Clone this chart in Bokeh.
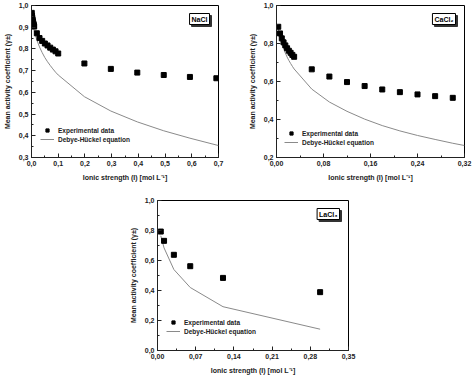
from bokeh.plotting import figure
from bokeh.layouts import row, column
from bokeh.models import (FixedTicker, CustomJSTickFormatter, Label, Legend,
                          LegendItem, Spacer)
from bokeh.embed import file_html
from bokeh.resources import INLINE

# ---------------- data ----------------
nacl_I = [0.001, 0.002, 0.003, 0.004, 0.005, 0.006, 0.007, 0.008, 0.009, 0.010,
          0.02, 0.03, 0.04, 0.05, 0.06, 0.07, 0.08, 0.09, 0.10,
          0.198, 0.297, 0.396, 0.495, 0.593, 0.692]
nacl_exp = [0.966, 0.953, 0.943, 0.935, 0.928, 0.922, 0.917, 0.912, 0.907, 0.903,
            0.872, 0.850, 0.837, 0.825, 0.816, 0.806, 0.797, 0.789, 0.779,
            0.733, 0.708, 0.691, 0.680, 0.671, 0.665]
nacl_dh_I = [0.001, 0.002, 0.003, 0.004, 0.005, 0.006, 0.007, 0.008, 0.009, 0.010,
             0.02, 0.03, 0.04, 0.05, 0.06, 0.07, 0.08, 0.09, 0.10,
             0.198, 0.297, 0.396, 0.495, 0.593, 0.700]
nacl_dh = [0.963, 0.947, 0.935, 0.925, 0.917, 0.910, 0.903, 0.897, 0.891, 0.885,
           0.841, 0.809, 0.783, 0.760, 0.741, 0.724, 0.708, 0.693, 0.680,
           0.580, 0.514, 0.464, 0.423, 0.389, 0.355]

cacl2_I = [0.003, 0.006, 0.009, 0.012, 0.015, 0.018, 0.021, 0.024, 0.027, 0.030,
           0.06, 0.09, 0.12, 0.15, 0.18, 0.21, 0.24, 0.27, 0.30]
cacl2_exp = [0.888, 0.853, 0.827, 0.806, 0.790, 0.775, 0.762, 0.751, 0.740, 0.730,
             0.664, 0.626, 0.597, 0.576, 0.558, 0.544, 0.532, 0.523, 0.514]
cacl2_dh_I = [0.003, 0.006, 0.009, 0.012, 0.015, 0.018, 0.021, 0.024, 0.027, 0.030,
              0.06, 0.09, 0.12, 0.15, 0.18, 0.21, 0.24, 0.27, 0.30, 0.32]
cacl2_dh = [0.880, 0.834, 0.800, 0.773, 0.750, 0.729, 0.711, 0.695, 0.680, 0.666,
            0.560, 0.492, 0.443, 0.402, 0.368, 0.340, 0.316, 0.295, 0.275, 0.263]

lacl3_I = [0.006, 0.012, 0.030, 0.060, 0.120, 0.298]
lacl3_exp = [0.793, 0.731, 0.638, 0.562, 0.484, 0.389]
lacl3_dh = [0.765, 0.684, 0.540, 0.420, 0.292, 0.142]

nacl_xticks = [0.0, 0.1, 0.2, 0.3, 0.4, 0.5, 0.6, 0.7]
nacl_yticks = [0.3, 0.4, 0.5, 0.6, 0.7, 0.8, 0.9, 1.0]
cacl2_xticks = [0.0, 0.08, 0.16, 0.24, 0.32]
cacl2_yticks = [0.2, 0.4, 0.6, 0.8, 1.0]
lacl3_xticks = [0.0, 0.07, 0.14, 0.21, 0.28, 0.35]
lacl3_yticks = [0.0, 0.2, 0.4, 0.6, 0.8, 1.0]

FONT = "Liberation Sans"
YLABEL = "Mean activity coefficient (γ±)"
XLABEL = "Ionic strength (I) [mol L⁻¹]"


def minors(ticks, n):
    out = []
    for a, b in zip(ticks[:-1], ticks[1:]):
        step = (b - a) / n
        for k in range(1, n):
            out.append(a + k * step)
    return out


def fmt(dec):
    return CustomJSTickFormatter(
        code="return tick.toFixed(%d).replace('.', ',');" % dec)


def panel(name, xs, ys, xl, yl, xr, yr, xt, yt, xdec, ydec, w, h,
          bl, br, bt, bb, leg_loc):
    p = figure(width=w, height=h, x_range=xr, y_range=yr,
               output_backend="svg", toolbar_location=None,
               min_border_left=bl, min_border_right=br,
               min_border_top=bt, min_border_bottom=bb)
    p.grid.visible = False
    p.outline_line_color = "black"
    p.outline_line_width = 1
    p.background_fill_color = "white"
    p.border_fill_color = "white"

    p.xaxis.ticker = FixedTicker(ticks=xt, minor_ticks=minors(xt, 2))
    p.yaxis.ticker = FixedTicker(ticks=yt, minor_ticks=minors(yt, 2))
    p.xaxis.formatter = fmt(xdec)
    p.yaxis.formatter = fmt(ydec)
    p.xaxis.axis_label = XLABEL
    p.yaxis.axis_label = YLABEL
    for ax in (p.xaxis, p.yaxis):
        ax.major_tick_in = 4
        ax.major_tick_out = 0
        ax.minor_tick_in = 2
        ax.minor_tick_out = 0
        ax.axis_line_color = "#222222"
        ax.major_tick_line_color = "#222222"
        ax.minor_tick_line_color = "#222222"
        ax.major_label_text_font = FONT
        ax.major_label_text_font_style = "bold"
        ax.major_label_text_font_size = "7px"
        ax.major_label_text_color = "#222222"
        ax.major_label_standoff = 3
        ax.axis_label_text_font = FONT
        ax.axis_label_text_font_style = "bold"
        ax.axis_label_text_font_size = "7px"
        ax.axis_label_text_color = "#222222"
        ax.axis_label_standoff = 5

    r_dh = p.line(xl, yl, line_color="#8a8a8a", line_width=1)
    r_exp = p.scatter(xs, ys, marker="square", size=5, color="black")

    leg = Legend(items=[LegendItem(label="Experimental data", renderers=[r_exp]),
                        LegendItem(label="Debye-Hückel equation", renderers=[r_dh])],
                 location=leg_loc)
    leg.label_text_font = FONT
    leg.label_text_font_style = "bold"
    leg.label_text_font_size = "6.5px"
    leg.label_text_color = "#222222"
    leg.glyph_width = 14
    leg.glyph_height = 8
    leg.label_height = 8
    leg.label_standoff = 4
    leg.spacing = 1
    leg.padding = 0
    leg.margin = 0
    leg.border_line_color = None
    leg.background_fill_alpha = 0
    p.add_layout(leg)

    common = dict(x=xr[1], y=yr[1], text=name, text_align="right",
                  text_baseline="top", text_font=FONT, text_font_style="bold",
                  text_font_size="7px", padding=2)
    shadow = Label(x_offset=-7, y_offset=-10, text_color="#333333",
                   background_fill_color="#333333", border_line_color="#333333",
                   **common)
    main = Label(x_offset=-9, y_offset=-8, text_color="black",
                 background_fill_color="white", border_line_color="black",
                 border_line_width=1, **common)
    p.add_layout(shadow)
    p.add_layout(main)
    return p


p1 = panel("NaCl", nacl_I, nacl_exp, nacl_dh_I, nacl_dh, (0, 0.7), (0.3, 1.0),
           nacl_xticks, nacl_yticks, 1, 1, 237, 190, 31, 19, 5, 33, (9, 14))
p2 = panel("CaCl₂", cacl2_I, cacl2_exp, cacl2_dh_I, cacl2_dh, (0, 0.32), (0.2, 1.0),
           cacl2_xticks, cacl2_yticks, 2, 1, 237, 190, 39, 10, 5, 33, (8, 11))
p3 = panel("LaCl₃", lacl3_I, lacl3_exp, lacl3_I, lacl3_dh, (0, 0.35), (0.0, 1.0),
           lacl3_xticks, lacl3_yticks, 2, 1, 250, 186, 37, 22, 10, 24, (9, 15))

layout = column(row(p1, p2), row(Spacer(width=120, height=186), p3))

open("out.html", "w").write(file_html(layout, INLINE))
